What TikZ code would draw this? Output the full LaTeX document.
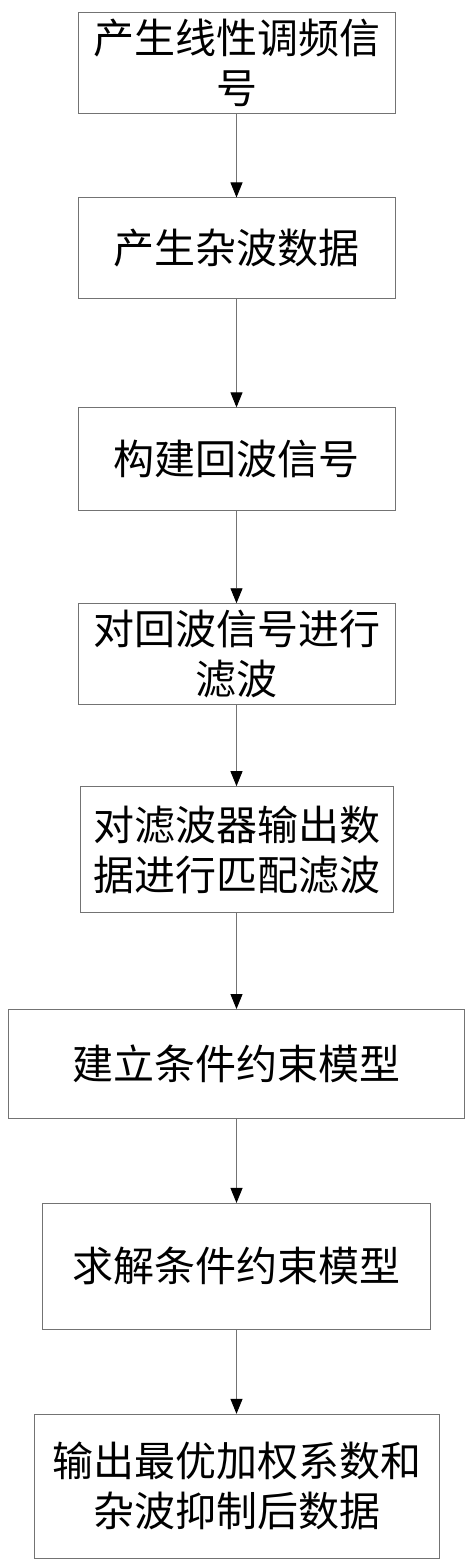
\documentclass[tikz,border=0pt]{standalone}
\usepackage{fontspec}
\newfontfamily\cjk{Noto Sans CJK SC}
\usepackage{tikz}
\usetikzlibrary{arrows.meta, positioning}
\tikzstyle{stepbox} = [rectangle, draw=black!55, line width=0.9pt, minimum width=317pt, minimum height=101pt, inner sep=2pt, align=center, font=\cjk\fontsize{41}{50}\selectfont]
\tikzstyle{arrow} = [draw=black!55, line width=0.9pt, -{Triangle[width=12pt,length=15pt,color=black]}]

\begin{document}
\begin{tikzpicture}[x=1pt, y=1pt]
  \useasboundingbox (0,0) rectangle (474,-1562);
  \node (chirp) [stepbox] at (236.5,-62.5) {产生线性调频信\\号};
  \node (clutter) [stepbox, below=84pt of chirp] {产生杂波数据};
  \node (echo) [stepbox, minimum height=103pt, below=108pt of clutter] {构建回波信号};
  \node (filter) [stepbox, below=92pt of echo] {对回波信号进行\\滤波};
  \node (match) [stepbox, minimum width=313pt, minimum height=126pt, below=81pt of filter] {对滤波器输出数\\据进行匹配滤波};
  \node (model) [stepbox, minimum width=456pt, minimum height=109pt, below=96pt of match] {建立条件约束模型};
  \node (solve) [stepbox, minimum width=388pt, minimum height=126pt, below=84pt of model] {求解条件约束模型};
  \node (output) [stepbox, minimum width=405pt, minimum height=144pt, below=84pt of solve] {输出最优加权系数和\\杂波抑制后数据};

  \draw[arrow] (chirp) -- (clutter);
  \draw[arrow] (clutter) -- (echo);
  \draw[arrow] (echo) -- (filter);
  \draw[arrow] (filter) -- (match);
  \draw[arrow] (match) -- (model);
  \draw[arrow] (model) -- (solve);
  \draw[arrow] (solve) -- (output);
\end{tikzpicture}
\end{document}
